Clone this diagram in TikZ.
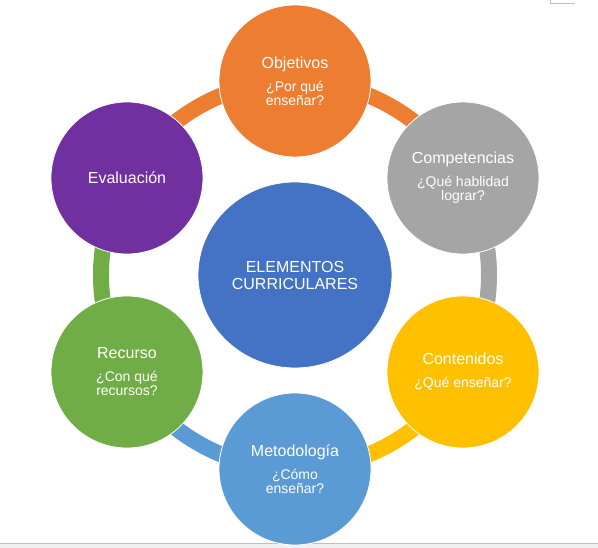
\documentclass[tikz,border=0pt]{standalone}
\usepackage{fontspec}
\setmainfont{Liberation Sans}
\usepackage{xcolor}
\usepackage{tikz}
\usetikzlibrary{shapes.geometric,backgrounds}

\definecolor{objorange}{HTML}{ED7D31}
\definecolor{compgray}{HTML}{A5A5A5}
\definecolor{contyellow}{HTML}{FFC000}
\definecolor{metblue}{HTML}{5B9BD5}
\definecolor{recgreen}{HTML}{70AD47}
\definecolor{evalpurple}{HTML}{7030A0}
\definecolor{centroblue}{HTML}{4472C4}
\definecolor{barfill}{HTML}{F0F0F0}
\definecolor{barline}{HTML}{C0C0C0}

\newcommand{\titulo}[1]{{\fontsize{16}{16}\selectfont #1}}

\begin{document}
\begin{tikzpicture}[x=1pt,y=1pt]
\tikzset{elem/.style={circle, draw=white, line width=0.8pt, minimum size=152pt, inner sep=0pt, text=white, align=center, font=\fontsize{14}{14}\selectfont}}
\tikzset{ring/.style={line width=16pt}}
\useasboundingbox (-295,-273) rectangle (303,275);

% marco de la captura
\fill[barfill] (-295,-273) rectangle (303,-269);
\draw[barline, line width=1pt] (-295,-269) -- (303,-269);
\draw[barline, line width=1pt] (256,275) -- (256,271) -- (280,271);

\node[ellipse, fill=centroblue, draw=white, line width=0.8pt, minimum width=194pt, minimum height=186pt, text=white, align=center, font=\fontsize{16}{17}\selectfont] (centro) at (0,0) {ELEMENTOS\\CURRICULARES};

\node[elem, fill=objorange] (obj) at (90:194) {\titulo{Objetivos}\\[9pt]¿Por qué\\enseñar?};
\node[elem, fill=compgray] (comp) at (30:194) {\titulo{Competencias}\\[9pt]¿Qué hablidad\\lograr?};
\node[elem, fill=contyellow] (cont) at (-30:194) {\titulo{Contenidos}\\[9pt]¿Qué enseñar?};
\node[elem, fill=metblue] (met) at (-90:194) {\titulo{Metodología}\\[9pt]¿Cómo\\enseñar?};
\node[elem, fill=recgreen] (rec) at (-150:194) {\titulo{Recurso}\\[9pt]¿Con qué\\recursos?};
\node[elem, fill=evalpurple] (eval) at (150:194) {\titulo{Evaluación}};

\begin{scope}[on background layer]
\draw[ring, objorange] (obj.center) arc[start angle=90, end angle=150, radius=194pt];
\draw[ring, objorange] (comp.center) arc[start angle=30, end angle=90, radius=194pt];
\draw[ring, compgray] (cont.center) arc[start angle=-30, end angle=30, radius=194pt];
\draw[ring, contyellow] (met.center) arc[start angle=-90, end angle=-30, radius=194pt];
\draw[ring, metblue] (rec.center) arc[start angle=-150, end angle=-90, radius=194pt];
\draw[ring, recgreen] (eval.center) arc[start angle=150, end angle=210, radius=194pt];
\end{scope}
\end{tikzpicture}
\end{document}
